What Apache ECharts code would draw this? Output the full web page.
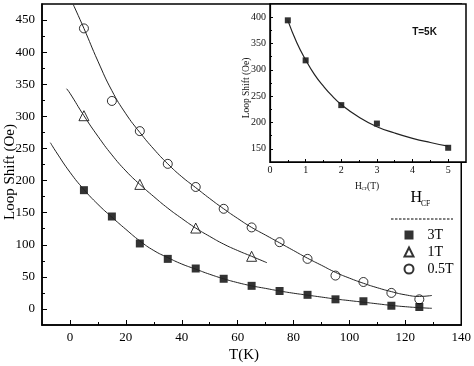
<!DOCTYPE html>
<html><head><meta charset="utf-8">
<script src="https://cdn.jsdelivr.net/npm/echarts@6/dist/echarts.min.js"></script>
<style>html,body{margin:0;padding:0;background:#fff}#c{width:474px;height:366px}</style>
</head><body><div id="c"></div>
<script>
// ---- data ----
var tempPts = [5,15,25,35,45,55,65,75,85,95,105,115,125];
var shift3T = [185,144,102,78,63,47,36,28,22,15,12,5,3];
var temp1T = [5,25,45,65];
var shift1T = [301,194,126,82];
var shift05T = [437,324,277,226,190,156,127,104,78,52,42,25,15];

var fit3T_T = [-7,-5,0,5,10,15,20,25,30,35,40,45,50,55,60,65,70,75,80,85,90,95,100,105,110,115,120,125,129.5];
var fit3T_V = [259,245,213,186,163,143,124,106,91,80,70,62,54,47,41,36,32,28,24.5,21.5,18.5,15.5,13,10.5,8,5.5,3.5,2,1];
var fit1T_T = [-1.2,0,5,10,15,20,25,30,35,40,45,50,55,60,65,70.5];
var fit1T_V = [343,336,301,269,240,215,194,175,157,141,126,113,101,91,82,72];
var fit05T_T = [1.2,5,10,15,20,25,30,35,40,45,50,55,60,65,70,75,80,85,90,95,100,105,110,115,120,125,129.5];
var fit05T_V = [474,437,386,340,304,275,249,226,206,189,172,156,141,127,115,103,91,79,68,57,48,40,33,27,22,19.5,21];

var insetH = [0.5,1,2,3,5];
var insetShift = [394,318,233,198,152];
var insetFitH = [0.5,0.75,1,1.25,1.5,1.75,2,2.5,3,3.5,4,4.5,5];
var insetFitV = [394,352,319,291,269,250,234,210,192,180,170,162,155];

var mainXLabels = [0,20,40,60,80,100,120,140];
var mainXMinor = [10,30,50,70,90,110,130];
var mainYLabels = [0,50,100,150,200,250,300,350,400,450];
var mainYMinor = [25,75,125,175,225,275,325,375,425];
var insetXLabels = [0,1,2,3,4,5];
var insetXMinor = [0.5,1.5,2.5,3.5,4.5];
var insetYLabels = [150,200,250,300,350,400];
var insetYMinor = [175,225,275,325,375];

function pairs(a,b){return a.map(function(v,i){return [v,b[i]];});}

var SERIF = 'Liberation Serif';
var chart = echarts.init(document.getElementById('c'), null, {renderer:'canvas'});

function axisBase(extra){
  var o = {type:'value', splitLine:{show:false},
    axisLine:{show:true, onZero:false, lineStyle:{color:'#000', width:1.5}},
    axisLabel:{color:'#000', fontFamily:SERIF, fontSize:13},
    axisTick:{inside:true, length:5, lineStyle:{color:'#000', width:1}}};
  for (var k in extra) o[k]=extra[k];
  return o;
}
function minorAxis(extra, vals, len){
  var o = {type:'value', splitLine:{show:false},
    axisLine:{show:false, onZero:false}, axisLabel:{show:false},
    axisTick:{show:true, inside:true, length:len, customValues:vals, lineStyle:{color:'#000', width:1}}};
  for (var k in extra) o[k]=extra[k];
  return o;
}

var option = {
  backgroundColor:'#fff',
  animation:false,
  grid:[
    {left:42, top:4, width:424, height:321, show:true, borderColor:'#000', borderWidth:1.5, backgroundColor:'transparent'},
    {left:270, top:4, width:196, height:158, show:true, borderColor:'#000', borderWidth:1.5, backgroundColor:'#fff'}
  ],
  xAxis:[
    axisBase({gridIndex:0, min:-10, max:140, position:'bottom',
      axisLine:{show:true, onZero:false, lineStyle:{color:'#000', width:1.5}},
      axisLabel:{color:'#000', fontFamily:SERIF, fontSize:13, margin:6, customValues:mainXLabels},
      axisTick:{inside:true, length:5, customValues:mainXLabels, lineStyle:{color:'#000'}}}),
    minorAxis({gridIndex:0, min:-10, max:140, position:'bottom'}, mainXMinor, 3),
    axisBase({gridIndex:1, min:0, max:5.5, position:'bottom',
      axisLine:{show:true, onZero:false, lineStyle:{color:'#000', width:1.2}},
      axisLabel:{color:'#111', fontFamily:SERIF, fontSize:10, margin:3, customValues:insetXLabels},
      axisTick:{inside:true, length:3, customValues:insetXLabels, lineStyle:{color:'#000'}}}),
    minorAxis({gridIndex:1, min:0, max:5.5, position:'bottom'}, insetXMinor, 2)
  ],
  yAxis:[
    axisBase({gridIndex:0, min:-25, max:475, position:'left',
      axisLine:{show:true, onZero:false, lineStyle:{color:'#000', width:1.5}},
      axisLabel:{color:'#000', fontFamily:SERIF, fontSize:13, margin:7, customValues:mainYLabels},
      axisTick:{inside:true, length:5, customValues:mainYLabels, lineStyle:{color:'#000'}}}),
    minorAxis({gridIndex:0, min:-25, max:475, position:'left'}, mainYMinor, 3),
    axisBase({gridIndex:1, min:125, max:425, position:'left',
      axisLine:{show:true, onZero:false, lineStyle:{color:'#000', width:1.2}},
      axisLabel:{color:'#111', fontFamily:SERIF, fontSize:10, margin:4, customValues:insetYLabels},
      axisTick:{inside:true, length:3, customValues:insetYLabels, lineStyle:{color:'#000'}}}),
    minorAxis({gridIndex:1, min:125, max:425, position:'left'}, insetYMinor, 2)
  ],
  legend:{
    left:403.5, top:228, orient:'vertical', padding:0, itemGap:3,
    itemWidth:9, itemHeight:9,
    textStyle:{fontFamily:SERIF, fontSize:14, lineHeight:14, color:'#000', padding:[0,0,0,9]},
    data:['3T','1T','0.5T']
  },
  series:[
    {type:'line', xAxisIndex:0, yAxisIndex:0, data:pairs(fit3T_T,fit3T_V), smooth:true, showSymbol:false, lineStyle:{color:'#222', width:1}, silent:true},
    {type:'line', xAxisIndex:0, yAxisIndex:0, data:pairs(fit1T_T,fit1T_V), smooth:true, showSymbol:false, lineStyle:{color:'#222', width:1}, silent:true},
    {type:'line', xAxisIndex:0, yAxisIndex:0, data:pairs(fit05T_T,fit05T_V), smooth:true, showSymbol:false, lineStyle:{color:'#222', width:1}, silent:true},
    {name:'3T', type:'scatter', xAxisIndex:0, yAxisIndex:0, data:pairs(tempPts,shift3T), symbol:'rect', symbolSize:8, itemStyle:{color:'#000'}},
    {name:'1T', type:'scatter', xAxisIndex:0, yAxisIndex:0, data:pairs(temp1T,shift1T), symbol:'triangle', symbolSize:10, itemStyle:{color:'rgba(255,255,255,0)', borderColor:'#000', borderWidth:1}},
    {name:'0.5T', type:'scatter', xAxisIndex:0, yAxisIndex:0, data:pairs(tempPts,shift05T), symbol:'circle', symbolSize:9, itemStyle:{color:'rgba(255,255,255,0)', borderColor:'#000', borderWidth:1}},
    {type:'line', xAxisIndex:2, yAxisIndex:2, data:pairs(insetFitH,insetFitV), smooth:true, showSymbol:false, lineStyle:{color:'#222', width:1.2}, silent:true},
    {type:'scatter', xAxisIndex:2, yAxisIndex:2, data:pairs(insetH,insetShift), symbol:'rect', symbolSize:6, itemStyle:{color:'#000'}}
  ],
  graphic:[
    {type:'text', x:244, y:355, style:{text:'T(K)', fontFamily:SERIF, fontSize:15, fill:'#000', align:'center', verticalAlign:'middle'}},
    {type:'text', x:10, y:172, rotation:Math.PI/2, style:{text:'Loop Shift (Oe)', fontFamily:SERIF, fontSize:15, fill:'#000', align:'center', verticalAlign:'middle'}},
    {type:'text', x:246, y:88, rotation:Math.PI/2, style:{text:'Loop Shift (Oe)', fontFamily:SERIF, fontSize:9.5, fill:'#111', align:'center', verticalAlign:'middle'}},
    {type:'text', x:355, y:186, style:{text:'H', fontFamily:SERIF, fontSize:9.5, fill:'#111', align:'left', verticalAlign:'middle'}},
    {type:'text', x:361.5, y:188.5, style:{text:'CF', fontFamily:SERIF, fontSize:5, fill:'#111', align:'left', verticalAlign:'middle'}},
    {type:'text', x:367, y:186, style:{text:'(T)', fontFamily:SERIF, fontSize:9.5, fill:'#111', align:'left', verticalAlign:'middle'}},
    {type:'text', x:424.5, y:32, style:{text:'T=5K', fontFamily:'Liberation Sans', fontSize:10, fontWeight:'bold', fill:'#111', align:'center', verticalAlign:'middle'}},
    {type:'text', x:410.5, y:198, style:{text:'H', fontFamily:SERIF, fontSize:16, fill:'#000', align:'left', verticalAlign:'middle'}},
    {type:'text', x:421, y:204, style:{text:'CF', fontFamily:SERIF, fontSize:7.5, fill:'#000', align:'left', verticalAlign:'middle'}},
    {type:'line', shape:{x1:391, y1:219, x2:453, y2:219}, style:{stroke:'#000', lineWidth:1, lineDash:[2.5,1.5]}}
  ]
};
chart.setOption(option);
</script>
</body></html>
